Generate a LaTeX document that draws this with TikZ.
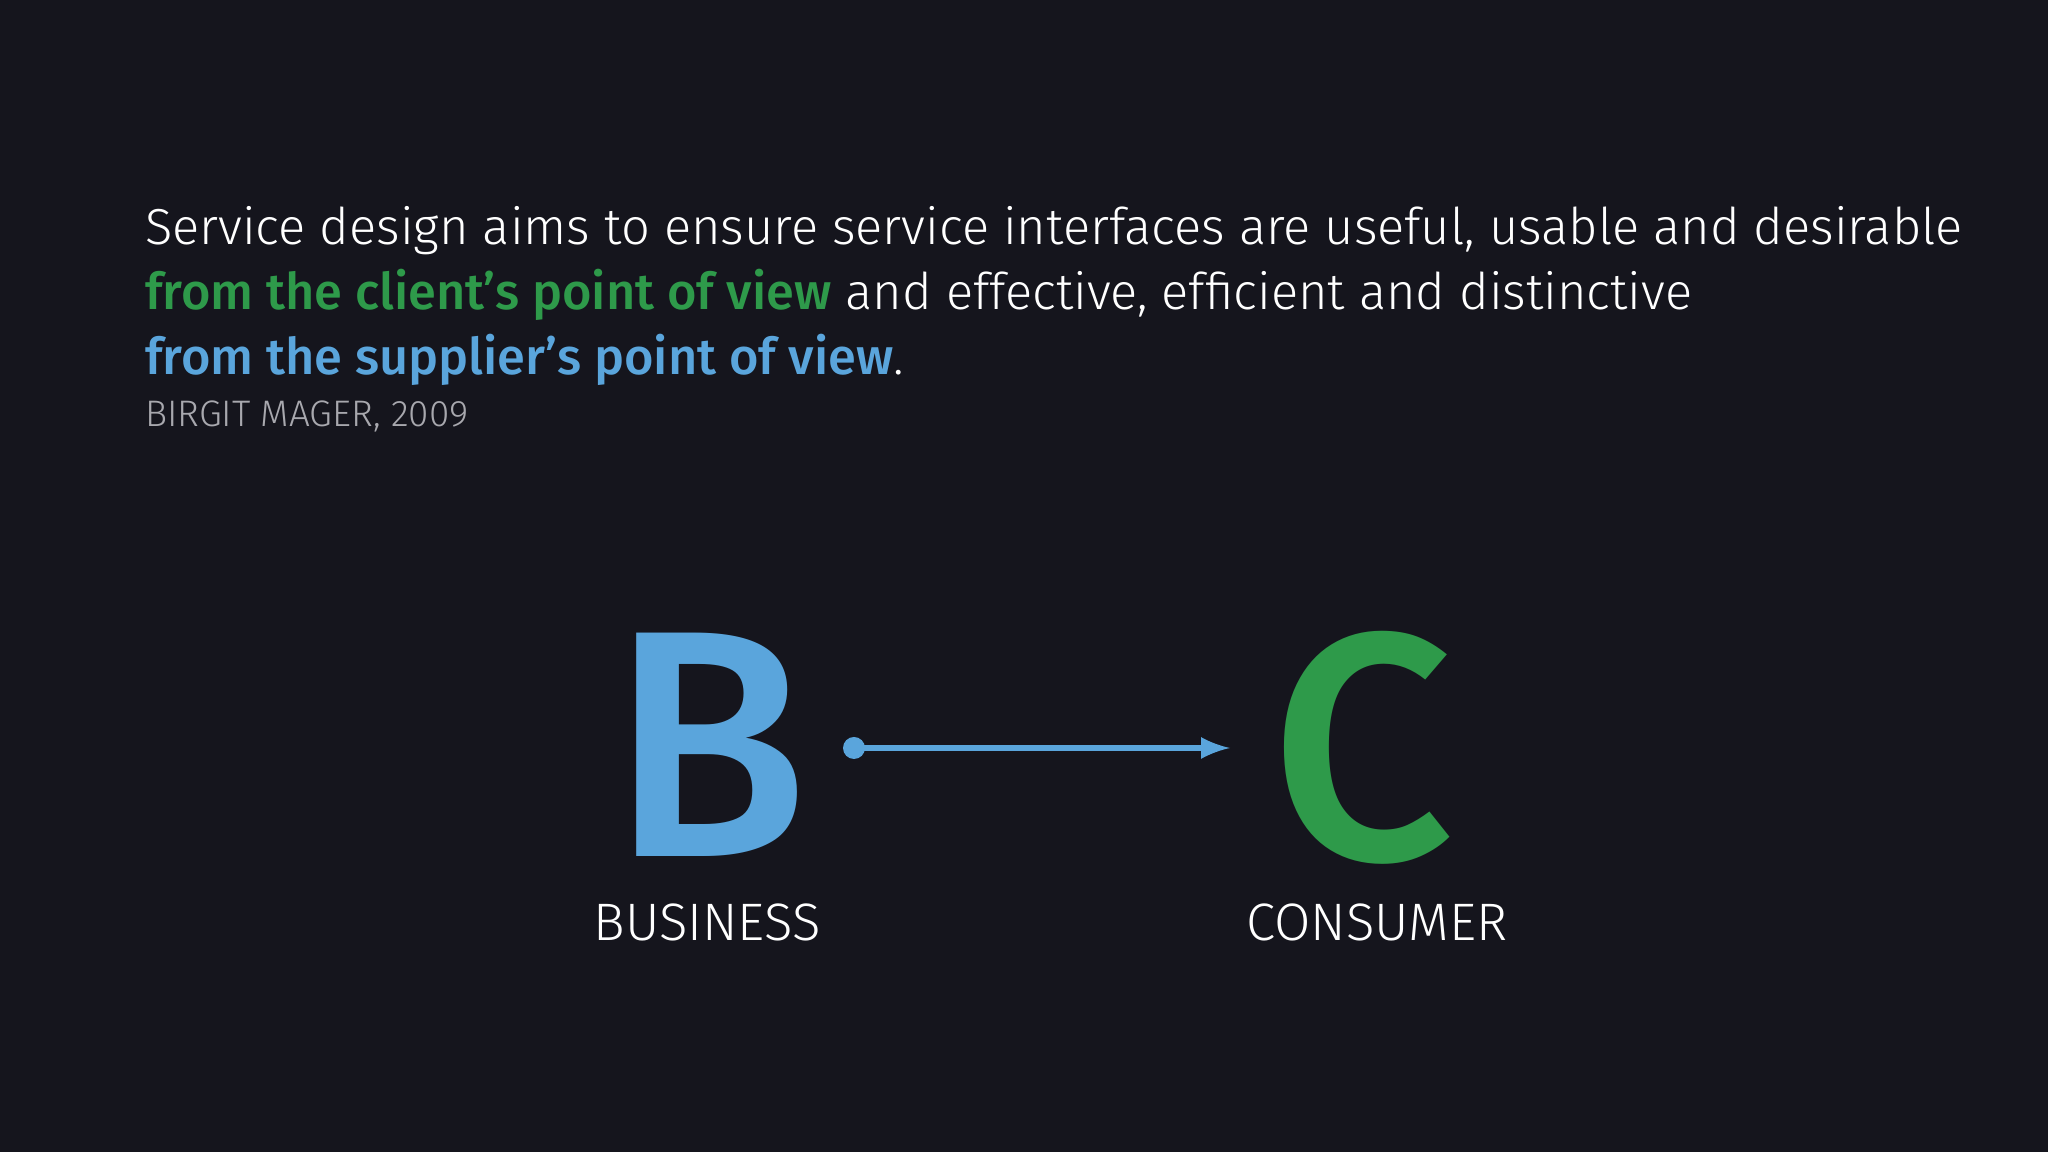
\documentclass[tikz,border=0pt]{standalone}
\usepackage{fontspec}
\setmainfont{Fira Sans Light}[BoldFont=Fira Sans Medium]
\usetikzlibrary{positioning}
\definecolor{bgdark}{HTML}{15151D}
\definecolor{clientgreen}{HTML}{2E9A4A}
\definecolor{supplierblue}{HTML}{5AA5DC}
\definecolor{quotegray}{HTML}{A8A8AE}

\begin{document}
\begin{tikzpicture}[
            > = latex, % arrow head style
            font = \sffamily,
            semithick % line style
        ]

        \tikzset{
            letter/.style = {inner sep = 0pt, font = \fontsize{92}{92}\selectfont\bfseries},
            caption/.style = {text = white, font = \fontsize{15}{18}\selectfont}
        }
    % Background
    \fill[bgdark] (0, 0) rectangle (20.48, 11.52);
    \useasboundingbox (0, 0) rectangle (20.48, 11.52);

    % Quote
    \node[anchor = base west, text = white, inner sep = 0pt, align = left,
          font = \fontsize{14.4}{18.6}\selectfont] (quote) at (1.44, 7.77)
        {Service design aims to ensure service interfaces are useful, usable and desirable\\
         \textcolor{clientgreen}{\bfseries from the client’s point of view} and effective, efficient and distinctive\\
         \textcolor{supplierblue}{\bfseries from the supplier’s point of view}.};
    \node[anchor = base west, text = quotegray, inner sep = 0pt,
          font = \fontsize{10.5}{13}\selectfont] (author) at (1.44, 7.25) {BIRGIT MAGER, 2009};

    % Letters and captions
    \node[letter, text = supplierblue] (B) at (7.10, 4.07) {B};
    \node[letter, text = clientgreen] (C) at (13.62, 4.04) {C};
    \node[caption] (business) at (7.07, 2.30) {BUSINESS};
    \node[caption] (consumer) at (13.77, 2.30) {CONSUMER};

    % Arrow from business to consumer
    \coordinate (start) at (8.54, 4.04);
    \coordinate (stop) at (12.30, 4.04);
    \fill[supplierblue] (start) circle (0.11);
    \draw[->, supplierblue, line width = 1.8pt] (start) -- (stop);
\end{tikzpicture}
\end{document}
